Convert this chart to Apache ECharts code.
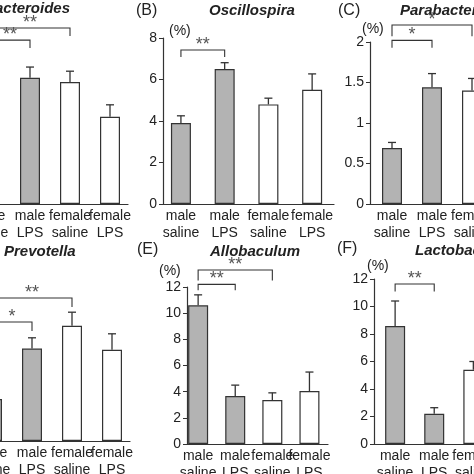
<!DOCTYPE html>
<html>
<head>
<meta charset="utf-8">
<script src="https://cdn.jsdelivr.net/npm/echarts@6/dist/echarts.min.js"></script>
<style>
  html, body { margin: 0; padding: 0; background: #fff; overflow: hidden; }
  #wrap { position: relative; width: 474px; height: 474px; overflow: hidden; }
  /* the reference is a crop of a wider figure, so the canvas sticks out on both sides */
  #chart { position: absolute; left: -60px; top: 0; width: 660px; height: 474px; }
</style>
</head>
<body>
<div id="wrap"><div id="chart"></div></div>
<script>
'use strict';

const categories = ['male\nsaline', 'male\nLPS', 'female\nsaline', 'female\nLPS'];
const isMale = [true, true, false, false];

const bacteroidesMean = [18, 30.4, 29.4, 21];
const bacteroidesErr = [2, 2.6, 2.6, 2.9];
const oscillospiraMean = [3.9, 6.5, 4.8, 5.5];
const oscillospiraErr = [0.35, 0.31, 0.3, 0.77];
const parabacteroidesMean = [0.69, 1.44, 1.4, 1.2];
const parabacteroidesErr = [0.07, 0.17, 0.15, 0.1];
const prevotellaMean = [10.5, 23.1, 28.8, 22.8];
const prevotellaErr = [2, 2.7, 3.4, 4];
const allobaculumMean = [10.6, 3.66, 3.36, 4.05];
const allobaculumErr = [0.8, 0.84, 0.55, 1.45];
const lactobacillusMean = [8.58, 2.2, 5.4, 4];
const lactobacillusErr = [1.82, 0.44, 0.6, 0.8];

// significance brackets: [from, to, line value, end value, stars]
const bacteroidesSig = [[0, 2, 42.4, 40.5, '**'], [0, 1, 39.5, 37.6, '**']];
const oscillospiraSig = [[0, 1, 7.42, 7.08, '**']];
const parabacteroidesSig = [[0, 2, 2.21, 2.07, '*'], [0, 1, 2.02, 1.93, '*']];
const prevotellaSig = [[0, 2, 35.75, 33.5, '**'], [0, 1, 29.75, 27.5, '*']];
const allobaculumSig = [[0, 2, 13.3, 12.5, '**'], [0, 1, 12.2, 11.75, '**']];
const lactobacillusSig = [[0, 1, 11.64, 11.1, '**']];

const INK = '#333';
const FONT = 'Liberation Sans, Arial, sans-serif';

const panels = [
  { mean: bacteroidesMean, err: bacteroidesErr, sig: bacteroidesSig, yMax: 40, yInt: 10,
    grid: { left: 30, top: 38, width: 158, height: 166 }, xMin: -0.5, xMax: 3.45 },
  { mean: oscillospiraMean, err: oscillospiraErr, sig: oscillospiraSig, yMax: 8, yInt: 2,
    grid: { left: 223, top: 38, width: 171, height: 166 }, xMin: -0.41, xMax: 3.5 },
  { mean: parabacteroidesMean, err: parabacteroidesErr, sig: parabacteroidesSig, yMax: 2, yInt: 0.5,
    grid: { left: 430, top: 42, width: 162, height: 162 }, xMin: -0.55, xMax: 3.5 },
  { mean: prevotellaMean, err: prevotellaErr, sig: prevotellaSig, yMax: 40, yInt: 10,
    grid: { left: 32, top: 281, width: 158, height: 160 }, xMin: -0.5, xMax: 3.45 },
  { mean: allobaculumMean, err: allobaculumErr, sig: allobaculumSig, yMax: 12, yInt: 2,
    grid: { left: 247, top: 287, width: 141, height: 157 }, xMin: -0.3, xMax: 3.5 },
  { mean: lactobacillusMean, err: lactobacillusErr, sig: lactobacillusSig, yMax: 12, yInt: 2,
    grid: { left: 434, top: 279, width: 158, height: 165 }, xMin: -0.54, xMax: 3.5 },
];

const grids = [], xAxes = [], yAxes = [], series = [];

panels.forEach((p, k) => {
  grids.push(Object.assign({ containLabel: false }, p.grid));
  xAxes.push({
    type: 'value', gridIndex: k, min: p.xMin, max: p.xMax,
    axisLine: { show: true, onZero: false, lineStyle: { color: INK, width: 1.2 } },
    axisTick: { show: false }, axisLabel: { show: false }, splitLine: { show: false },
  });
  yAxes.push({
    type: 'value', gridIndex: k, min: 0, max: p.yMax, interval: p.yInt,
    axisLine: { show: true, onZero: false, lineStyle: { color: INK, width: 1.2 } },
    axisTick: { show: true, length: 4, lineStyle: { color: INK } },
    axisLabel: { color: '#222', fontSize: 14, fontFamily: FONT, margin: 6 },
    splitLine: { show: false },
  });

  series.push({
    type: 'bar', xAxisIndex: k, yAxisIndex: k, barWidth: 20,
    data: p.mean.map((v, i) => ({
      value: [i, v],
      itemStyle: { color: isMale[i] ? '#b3b3b3' : '#fff', borderColor: INK, borderWidth: 1.2 },
    })),
  });

  series.push({
    type: 'custom', xAxisIndex: k, yAxisIndex: k, clip: false, z: 3,
    data: p.mean.map((v, i) => [i, v, p.err[i]]),
    renderItem: (params, api) => {
      const base = api.coord([api.value(0), api.value(1)]);
      const top = api.coord([api.value(0), api.value(1) + api.value(2)]);
      const s = { stroke: INK, lineWidth: 1.3 };
      return { type: 'group', children: [
        { type: 'line', shape: { x1: base[0], y1: base[1], x2: top[0], y2: top[1] }, style: s },
        { type: 'line', shape: { x1: top[0] - 4, y1: top[1], x2: top[0] + 4, y2: top[1] }, style: s },
      ] };
    },
  });

  series.push({
    type: 'custom', xAxisIndex: k, yAxisIndex: k, clip: false, silent: true,
    data: categories.map((c, i) => [i, 0]),
    renderItem: (params, api) => {
      const pt = api.coord([api.value(0), 0]);
      return { type: 'text', x: pt[0], y: pt[1] + 4, style: {
        text: categories[params.dataIndex], fill: '#222', font: '14px ' + FONT,
        lineHeight: 17, align: 'center', verticalAlign: 'top' } };
    },
  });

  series.push({
    type: 'custom', xAxisIndex: k, yAxisIndex: k, clip: false, silent: true,
    data: p.sig.map((b) => b.slice(0, 4)),
    renderItem: (params, api) => {
      const b = p.sig[params.dataIndex];
      const a1 = api.coord([b[0], b[3]]), a2 = api.coord([b[0], b[2]]);
      const b2 = api.coord([b[1], b[2]]), b1 = api.coord([b[1], b[3]]);
      return { type: 'group', children: [
        { type: 'polyline', shape: { points: [a1, a2, b2, b1] },
          style: { stroke: INK, lineWidth: 1.1, fill: null } },
        { type: 'text', x: (a2[0] + b2[0]) / 2, y: a2[1] + 4, style: {
          text: b[4], fill: '#555', font: '18px ' + FONT, align: 'center', verticalAlign: 'bottom' } },
      ] };
    },
  });
});

const label = (x, y, text, opts) => ({
  type: 'text', left: x, top: y,
  style: Object.assign({ text, fill: '#222', font: '15px ' + FONT }, opts || {}),
});
const species = (x, y, text, align) => ({
  type: 'text', x, y,
  style: { text, fill: '#222', font: 'italic bold 15px ' + FONT, align: align || 'left', verticalAlign: 'middle' },
});

const graphic = [
  species(130, 9, 'Bacteroides', 'right'),
  label(196, 3, '(B)', { font: '16px ' + FONT }),
  species(269, 11, 'Oscillospira'),
  label(229, 24, '(%)', { font: '14px ' + FONT }),
  label(398, 3, '(C)', { font: '16px ' + FONT }),
  species(460, 11, 'Parabacteroides'),
  label(422, 22, '(%)', { font: '14px ' + FONT }),
  species(64, 252, 'Prevotella'),
  label(197, 242, '(E)', { font: '16px ' + FONT }),
  species(270, 252, 'Allobaculum'),
  label(219, 264, '(%)', { font: '14px ' + FONT }),
  label(397, 241, '(F)', { font: '16px ' + FONT }),
  species(475, 251, 'Lactobacillus'),
  label(427, 259, '(%)', { font: '14px ' + FONT }),
];

const chart = echarts.init(document.getElementById('chart'), null, { renderer: 'canvas' });
chart.setOption({
  animation: false,
  grid: grids, xAxis: xAxes, yAxis: yAxes, series, graphic,
});
</script>
</body>
</html>
